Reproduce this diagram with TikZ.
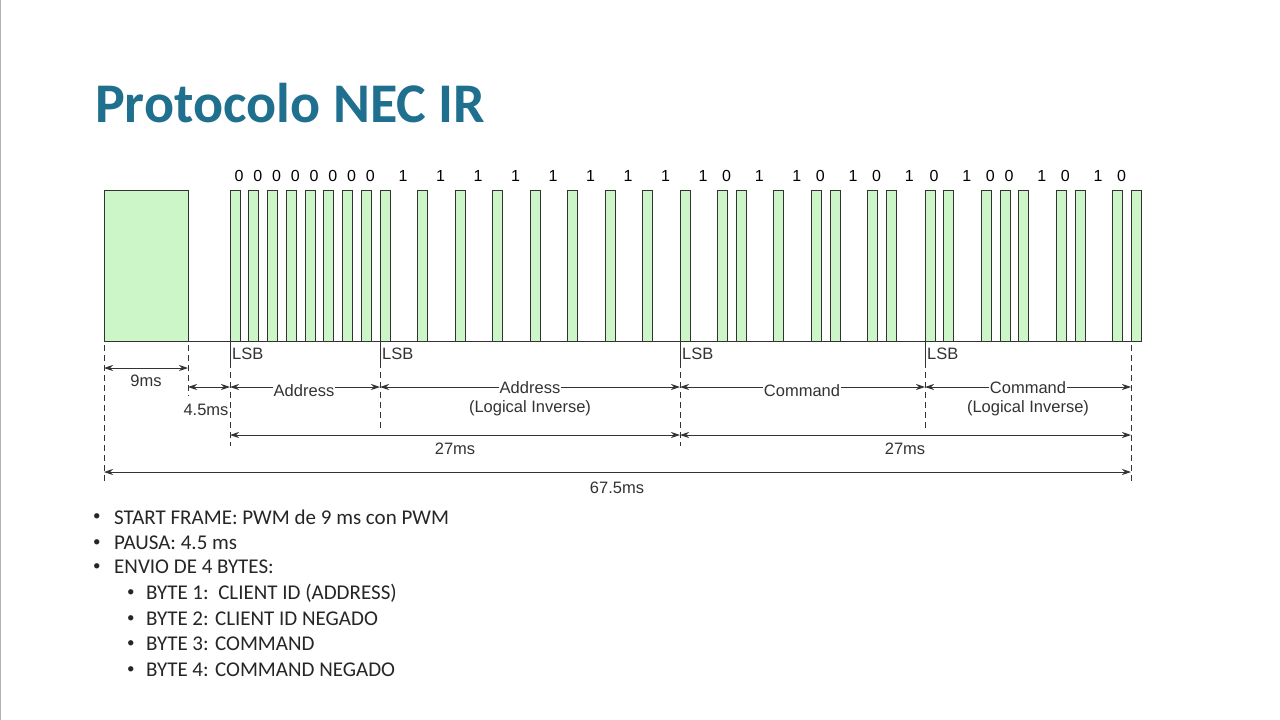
\documentclass[tikz,border=0pt]{standalone}
\usepackage{fontspec}
\setmainfont{Carlito}
\newfontfamily\arial{Liberation Sans}
\usetikzlibrary{arrows.meta}
\definecolor{titlec}{HTML}{1F6F8F}
\definecolor{pgreen}{HTML}{CCF5C8}
\definecolor{lc}{HTML}{333333}
\tikzset{
  dim/.style={lc, line width=0.9pt, {Stealth[length=9pt,width=6pt]}-{Stealth[length=9pt,width=6pt]}},
  dsh/.style={lc, line width=0.8pt, dash pattern=on 6pt off 4pt},
  lbl/.style={font=\arial\fontsize{16.5}{19}\selectfont, text=lc, inner sep=1pt},
  bit/.style={font=\arial\fontsize{16}{18}\selectfont, text=black, inner sep=0pt},
  bul/.style={font=\fontsize{21}{24}\selectfont, anchor=west, inner sep=0pt, text=black!85},
  dot/.style={font=\fontsize{15}{18}\selectfont, anchor=west, inner sep=0pt, text=black!85}
}
\begin{document}
\begin{tikzpicture}[x=1pt,y=-1pt]
\useasboundingbox (0,0) rectangle (1280,720);
\fill[white] (0,0) rectangle (1280,720);
\draw[gray!60] (0.5,0) -- (0.5,720);
\node[anchor=west, text=titlec, font=\bfseries\fontsize{56}{60}\selectfont, inner sep=0pt] (title) at (95,103) {Protocolo NEC IR};
% start frame
\filldraw[fill=pgreen, draw=lc, line width=1pt] (104,341) rectangle (188,190);
\draw[lc, line width=1pt] (104,341) -- (1142,341);
% pulses
\foreach \x in {230,248.75,267.5,286.25,305,323.75,342.5,361.25,
                380,417.5,455,492.5,530,567.5,605,642.5,
                680,717.5,736.25,773.75,811.25,830,867.5,886.25,
                925,943.75,981.25,1000,1018.75,1056.25,1075,1112.5,1131.25}{
  \fill[pgreen] (\x,341) rectangle ++(10,-151);
  \draw[lc, line width=1pt] (\x,341) -- (\x,190) -- ++(10,0) -- ++(0,151);
}
% bit labels
\foreach \x/\b in {230/0,248.75/0,267.5/0,286.25/0,305/0,323.75/0,342.5/0,361.25/0,
                380/1,417.5/1,455/1,492.5/1,530/1,567.5/1,605/1,642.5/1,
                680/1,717.5/0,736.25/1,773.75/1,811.25/0,830/1,867.5/0,886.25/1,
                925/0,943.75/1,981.25/0,1000/0,1018.75/1,1056.25/0,1075/1,1112.5/0}{
  \pgfmathsetmacro{\lx}{\x+9+14*\b}
  \node[bit] at (\lx,176) {\b};
}
% LSB
\foreach \x in {230,380,680,925}{
  \draw[lc, line width=0.8pt] (\x,341) -- (\x,362);
  \node[lbl, anchor=west] at (\x+1,354) {LSB};
}
% dashed verticals
\draw[dsh] (104,345) -- (104,482);
\draw[dsh] (188,345) -- (188,396);
\draw[dsh] (230,362) -- (230,446);
\draw[dsh] (380,362) -- (380,428);
\draw[dsh] (680,362) -- (680,446);
\draw[dsh] (925,362) -- (925,428);
\draw[dsh] (1131,345) -- (1131,482);
% coordinates
\coordinate (a0) at (104,368); \coordinate (a1) at (188,368);
\coordinate (b0) at (188,387); \coordinate (b1) at (230,387);
\coordinate (c0) at (230,387); \coordinate (c1) at (380,387);
\coordinate (d1) at (680,387); \coordinate (e1) at (925,387); \coordinate (f1) at (1131,387);
\coordinate (g0) at (230,435); \coordinate (g1) at (680,435); \coordinate (g2) at (1131,435);
\coordinate (h0) at (104,472); \coordinate (h1) at (1131,472);
\draw[dim] (a0) -- (a1);
\node[lbl] (t9) at (146,381) {9ms};
\draw[dim] (b0) -- (b1);
\node[lbl] (t45) at (206,410) {4.5ms};
\draw[dim] (c0) -- (c1);
\draw[dim] (c1) -- (d1);
\draw[dim] (d1) -- (e1);
\draw[dim] (e1) -- (f1);
\node[lbl, fill=white] at (304,391) {Address};
\node[lbl, fill=white] at (530,388) {Address};
\node[lbl] at (530,408) {(Logical Inverse)};
\node[lbl, fill=white] at (802,391) {Command};
\node[lbl, fill=white] at (1028,388) {Command};
\node[lbl] at (1028,408) {(Logical Inverse)};
\draw[dim] (g0) -- (g1);
\draw[dim] (g1) -- (g2);
\node[lbl] at (455,449) {27ms};
\node[lbl] at (905,449) {27ms};
\draw[dim] (h0) -- (h1);
\node[lbl] at (617,488) {67.5ms};
% bullets
\foreach \y/\t in {517/{START FRAME: PWM de 9 ms con PWM},543/{PAUSA: 4.5 ms},567/{ENVIO DE 4 BYTES:}}{
  \node[dot] at (93,\y) {•};
  \node[bul] at (114,\y) {\t};
}
\foreach \y/\t in {593/{BYTE 1:\ \ CLIENT ID (ADDRESS)},619/{BYTE 2: CLIENT ID NEGADO},644/{BYTE 3: COMMAND},670/{BYTE 4: COMMAND NEGADO}}{
  \node[dot] at (127,\y) {•};
  \node[bul] at (146,\y) {\t};
}
\end{tikzpicture}
\end{document}
